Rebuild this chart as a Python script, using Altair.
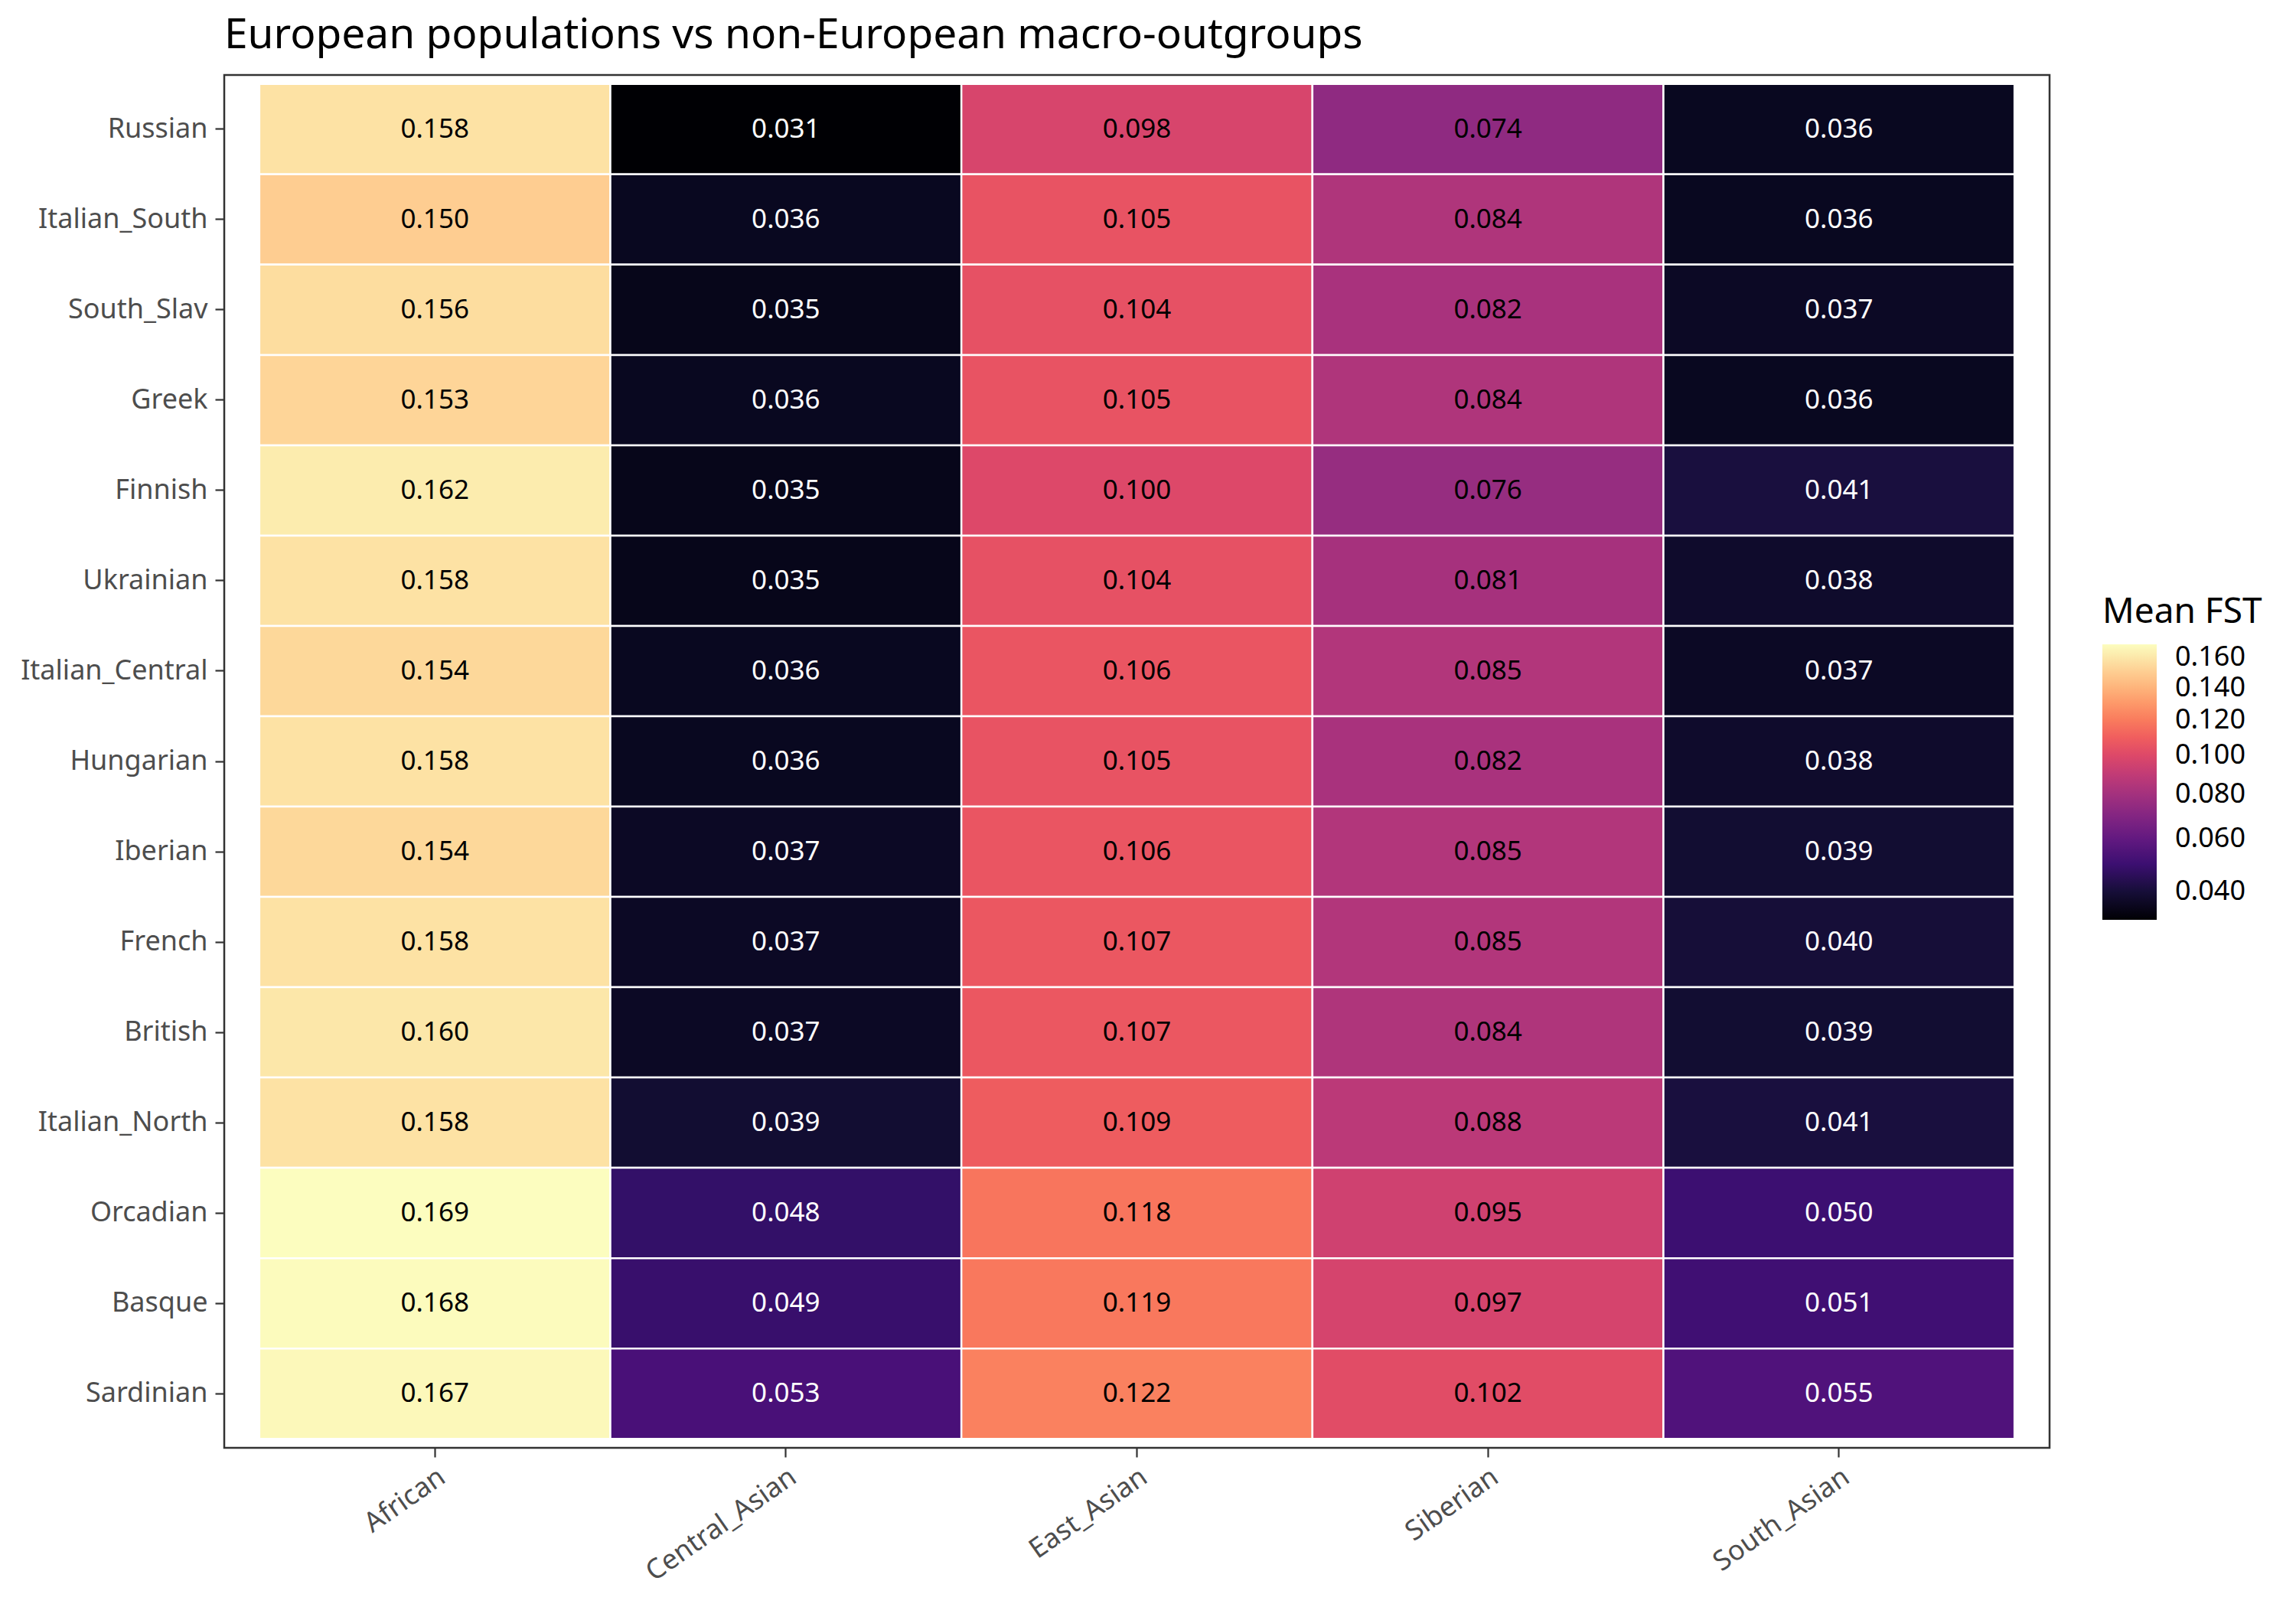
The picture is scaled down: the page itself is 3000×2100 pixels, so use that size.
import altair as alt
import pandas as pd

# European populations (top to bottom) and non-European outgroups (left to right)
populations = [
    "Russian", "Italian_South", "South_Slav", "Greek", "Finnish", "Ukrainian",
    "Italian_Central", "Hungarian", "Iberian", "French", "British",
    "Italian_North", "Orcadian", "Basque", "Sardinian",
]
outgroups = ["African", "Central_Asian", "East_Asian", "Siberian", "South_Asian"]

# Mean FST per outgroup, one value per population in the order above
african = [0.158, 0.150, 0.156, 0.153, 0.162, 0.158, 0.154, 0.158, 0.154, 0.158, 0.160, 0.158, 0.169, 0.168, 0.167]
central_asian = [0.031, 0.036, 0.035, 0.036, 0.035, 0.035, 0.036, 0.036, 0.037, 0.037, 0.037, 0.039, 0.048, 0.049, 0.053]
east_asian = [0.098, 0.105, 0.104, 0.105, 0.100, 0.104, 0.106, 0.105, 0.106, 0.107, 0.107, 0.109, 0.118, 0.119, 0.122]
siberian = [0.074, 0.084, 0.082, 0.084, 0.076, 0.081, 0.085, 0.082, 0.085, 0.085, 0.084, 0.088, 0.095, 0.097, 0.102]
south_asian = [0.036, 0.036, 0.037, 0.036, 0.041, 0.038, 0.037, 0.038, 0.039, 0.040, 0.039, 0.041, 0.050, 0.051, 0.055]

legend_ticks = [0.04, 0.06, 0.08, 0.10, 0.12, 0.14, 0.16]

series = [african, central_asian, east_asian, siberian, south_asian]
rows = []
for group, values in zip(outgroups, series):
    for pop, v in zip(populations, values):
        rows.append({"population": pop, "outgroup": group, "fst": v})
df = pd.DataFrame(rows)

FONT = "Noto Sans"
W, H = 2385, 1794

x_enc = alt.X(
    "outgroup:N",
    sort=outgroups,
    title=None,
    scale=alt.Scale(paddingInner=0, paddingOuter=0.1),
    axis=alt.Axis(
        labelAngle=325, labelAlign="right", labelBaseline="top",
        labelFontSize=36, labelColor="#4D4D4D", labelFont=FONT,
        labelPadding=8, labelLimit=0, tickSize=12, tickWidth=2.2, tickColor="#333333",
        domain=False, grid=False,
    ),
)
y_enc = alt.Y(
    "population:N",
    sort=populations,
    title=None,
    scale=alt.Scale(paddingInner=0, paddingOuter=0.1),
    axis=alt.Axis(
        labelFontSize=36, labelColor="#4D4D4D", labelFont=FONT,
        labelPadding=10, labelLimit=0, tickSize=12, tickWidth=2.2, tickColor="#333333",
        domain=False, grid=False,
    ),
)

tiles = alt.Chart(df).mark_rect(stroke="white", strokeWidth=2.5).encode(
    x=x_enc,
    y=y_enc,
    color=alt.Color(
        "fst:Q",
        title="Mean FST",
        scale=alt.Scale(type="sqrt", scheme="magma", domain=[0.031, 0.169], zero=False),
        legend=alt.Legend(
            orient="none", legendX=2454, legendY=680,
            direction="vertical",
            values=legend_ticks, format=".3f",
            gradientLength=360, gradientThickness=71,
            gradientStrokeWidth=0,
            titleFontSize=46, titleFont=FONT, titleFontWeight="normal",
            titleColor="black", titlePadding=18, titleLimit=0,
            labelFontSize=36, labelFont=FONT, labelColor="black",
            labelOffset=24, labelOverlap=False, labelLimit=0,
        ),
    ),
)

labels = alt.Chart(df).mark_text(fontSize=35, font=FONT).encode(
    x=alt.X("outgroup:N", sort=outgroups),
    y=alt.Y("population:N", sort=populations),
    text=alt.Text("fst:Q", format=".3f"),
    color=alt.condition(alt.datum.fst > 0.065, alt.value("black"), alt.value("white")),
)

chart = (
    alt.layer(tiles, labels)
    .properties(
        width=W,
        height=H,
        title=alt.TitleParams(
            "European populations vs non-European macro-outgroups",
            anchor="start", frame="group", fontSize=55, font=FONT,
            fontWeight="normal", color="black", baseline="alphabetic",
            offset=36, dy=56,
        ),
        autosize=alt.AutoSizeParams(type="none"),
        padding={"left": 293, "top": 98, "right": 3000 - 293 - W, "bottom": 2100 - 98 - H},
    )
    .configure(background="white")
    .configure_view(stroke="#333333", strokeWidth=2.5)
)

chart.save("out.html", embed_options={"renderer": "svg", "actions": False})
